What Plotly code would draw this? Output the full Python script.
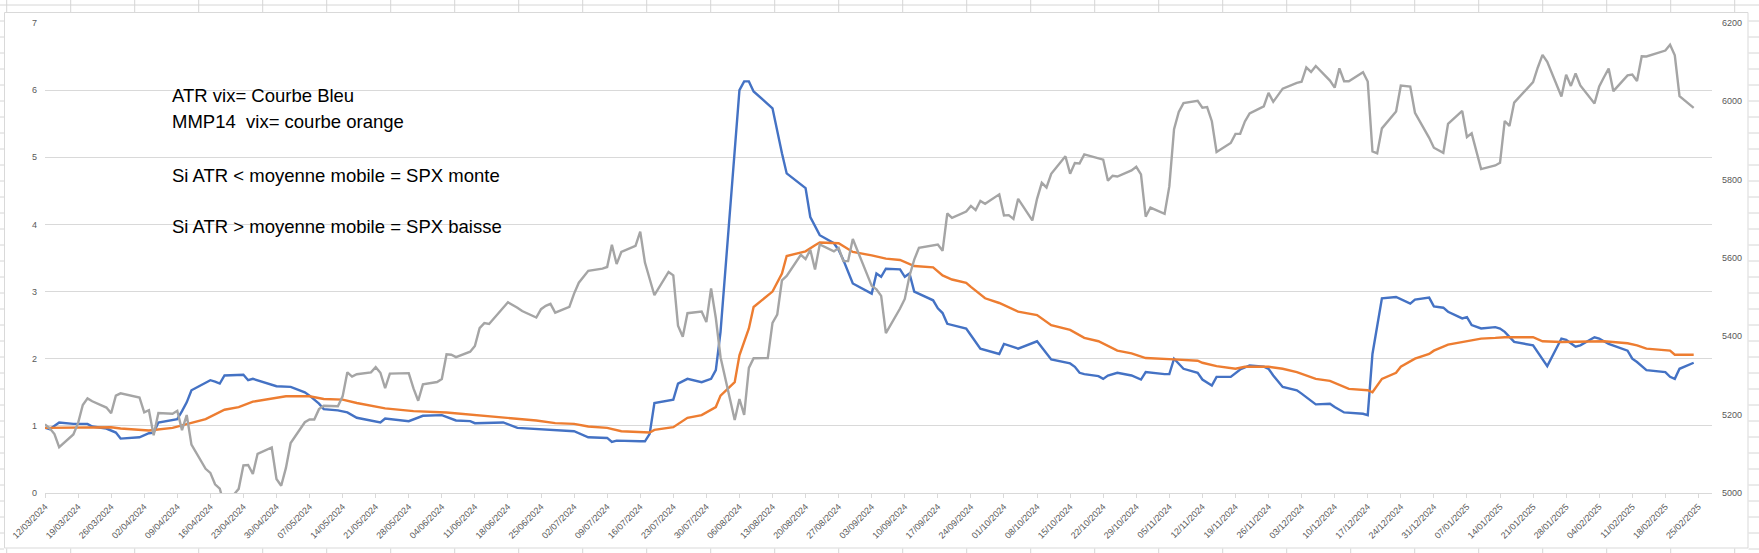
import plotly.graph_objects as go
import pandas as pd

# ---------------- DATA ----------------
spx_dates = [
 "2024-03-12","2024-03-13","2024-03-14","2024-03-15","2024-03-18","2024-03-19","2024-03-20","2024-03-21","2024-03-22","2024-03-25","2024-03-26","2024-03-27","2024-03-28",
 "2024-04-01","2024-04-02","2024-04-03","2024-04-04","2024-04-05","2024-04-08","2024-04-09","2024-04-10","2024-04-11","2024-04-12","2024-04-15","2024-04-16","2024-04-17","2024-04-18","2024-04-19","2024-04-22","2024-04-23","2024-04-24","2024-04-25","2024-04-26","2024-04-29","2024-04-30",
 "2024-05-01","2024-05-02","2024-05-03","2024-05-06","2024-05-07","2024-05-08","2024-05-09","2024-05-10","2024-05-13","2024-05-14","2024-05-15","2024-05-16","2024-05-17","2024-05-20","2024-05-21","2024-05-22","2024-05-23","2024-05-24","2024-05-28","2024-05-29","2024-05-30","2024-05-31",
 "2024-06-03","2024-06-04","2024-06-05","2024-06-06","2024-06-07","2024-06-10","2024-06-11","2024-06-12","2024-06-13","2024-06-14","2024-06-17","2024-06-18","2024-06-20","2024-06-21","2024-06-24","2024-06-25","2024-06-26","2024-06-27","2024-06-28",
 "2024-07-01","2024-07-02","2024-07-03","2024-07-05","2024-07-08","2024-07-09","2024-07-10","2024-07-11","2024-07-12","2024-07-15","2024-07-16","2024-07-17","2024-07-18","2024-07-19","2024-07-22","2024-07-23","2024-07-24","2024-07-25","2024-07-26","2024-07-29","2024-07-30","2024-07-31",
 "2024-08-01","2024-08-02","2024-08-05","2024-08-06","2024-08-07","2024-08-08","2024-08-09","2024-08-12","2024-08-13","2024-08-14","2024-08-15","2024-08-16","2024-08-19","2024-08-20","2024-08-21","2024-08-22","2024-08-23","2024-08-26","2024-08-27","2024-08-28","2024-08-29","2024-08-30",
 "2024-09-03","2024-09-04","2024-09-05","2024-09-06","2024-09-09","2024-09-10","2024-09-11","2024-09-12","2024-09-13","2024-09-16","2024-09-17","2024-09-18","2024-09-19","2024-09-20","2024-09-23","2024-09-24","2024-09-25","2024-09-26","2024-09-27","2024-09-30",
 "2024-10-01","2024-10-02","2024-10-03","2024-10-04","2024-10-07","2024-10-08","2024-10-09","2024-10-10","2024-10-11","2024-10-14","2024-10-15","2024-10-16","2024-10-17","2024-10-18","2024-10-21","2024-10-22","2024-10-23","2024-10-24","2024-10-25","2024-10-28","2024-10-29","2024-10-30","2024-10-31",
 "2024-11-01","2024-11-04","2024-11-05","2024-11-06","2024-11-07","2024-11-08","2024-11-11","2024-11-12","2024-11-13","2024-11-14","2024-11-15","2024-11-18","2024-11-19","2024-11-20","2024-11-21","2024-11-22","2024-11-25","2024-11-26","2024-11-27","2024-11-29",
 "2024-12-02","2024-12-03","2024-12-04","2024-12-05","2024-12-06","2024-12-09","2024-12-10","2024-12-11","2024-12-12","2024-12-13","2024-12-16","2024-12-17","2024-12-18","2024-12-19","2024-12-20","2024-12-23","2024-12-24","2024-12-26","2024-12-27","2024-12-30","2024-12-31",
 "2025-01-02","2025-01-03","2025-01-06","2025-01-07","2025-01-08","2025-01-10","2025-01-13","2025-01-14","2025-01-15","2025-01-16","2025-01-17","2025-01-21","2025-01-22","2025-01-23","2025-01-24","2025-01-27","2025-01-28","2025-01-29","2025-01-30","2025-01-31",
 "2025-02-03","2025-02-04","2025-02-05","2025-02-06","2025-02-07","2025-02-10","2025-02-11","2025-02-12","2025-02-13","2025-02-14","2025-02-18","2025-02-19","2025-02-20","2025-02-21","2025-02-24",
]
spx_close = [
 5175.3,5165.3,5150.5,5117.1,5149.4,5178.5,5224.6,5241.5,5234.2,5218.2,5203.6,5248.5,5254.4,
 5243.8,5205.8,5211.5,5147.2,5204.3,5202.4,5209.9,5160.6,5199.1,5123.4,5061.8,5051.4,5022.2,5011.1,4967.2,5010.6,5070.6,5071.6,5048.4,5100.0,5116.2,5035.7,
 5018.4,5064.2,5127.8,5180.7,5187.7,5187.7,5214.1,5222.7,5221.4,5246.7,5308.2,5297.1,5303.3,5308.1,5321.4,5307.0,5267.8,5304.7,5306.0,5267.0,5235.5,5277.5,
 5283.4,5291.3,5354.0,5353.0,5347.0,5360.8,5375.3,5421.0,5433.7,5431.6,5473.2,5487.0,5473.2,5464.6,5447.9,5469.3,5477.9,5482.9,5460.5,
 5475.1,5509.0,5537.0,5567.2,5572.9,5577.0,5633.9,5584.5,5615.4,5631.2,5667.2,5588.3,5544.6,5505.0,5564.4,5555.7,5427.1,5399.2,5459.1,5463.5,5436.4,5522.3,
 5446.7,5346.6,5186.3,5240.0,5199.5,5319.3,5344.2,5344.4,5434.4,5455.2,5543.2,5554.3,5608.3,5597.1,5620.9,5570.6,5634.6,5616.8,5625.8,5592.2,5592.0,5648.4,
 5528.9,5520.1,5503.4,5408.4,5471.1,5495.5,5554.1,5595.8,5626.0,5633.1,5634.6,5618.3,5713.6,5702.6,5718.6,5732.9,5722.3,5745.4,5738.2,5762.5,
 5708.8,5709.5,5699.9,5751.1,5695.9,5751.1,5792.0,5780.1,5815.0,5859.9,5815.3,5842.5,5841.5,5864.7,5854.0,5851.2,5797.4,5809.9,5808.1,5823.5,5832.9,5813.7,5705.5,
 5728.8,5712.7,5782.8,5929.0,5973.1,5995.5,6001.4,5984.0,5985.4,5949.2,5870.6,5893.6,5917.0,5917.1,5948.7,5969.3,5987.4,6021.6,5998.7,6032.4,
 6047.2,6049.9,6086.5,6075.1,6090.3,6052.9,6034.9,6084.2,6051.3,6051.1,6074.1,6050.6,5872.2,5867.1,5930.9,5974.1,6040.0,6037.6,5970.8,5906.9,5881.6,
 5868.6,5942.5,5975.4,5909.0,5918.3,5827.0,5836.2,5842.9,5949.9,5937.3,5996.7,6049.2,6086.4,6118.7,6101.2,6012.3,6067.7,6039.3,6071.2,6040.5,
 5994.6,6037.9,6061.5,6083.6,6026.0,6066.4,6068.5,6052.0,6115.1,6114.6,6129.6,6144.2,6117.5,6013.1,5983.3,
]

atr_dates = [
 "2024-03-12","2024-03-13","2024-03-15","2024-03-18","2024-03-21","2024-03-22","2024-03-25","2024-03-27","2024-03-28",
 "2024-04-01","2024-04-03","2024-04-04","2024-04-05","2024-04-08","2024-04-09","2024-04-10","2024-04-11","2024-04-12",
 "2024-04-16","2024-04-17","2024-04-18","2024-04-19","2024-04-23","2024-04-24","2024-04-25","2024-04-30",
 "2024-05-03","2024-05-06","2024-05-07","2024-05-09","2024-05-10","2024-05-13","2024-05-15","2024-05-17","2024-05-21","2024-05-22","2024-05-23","2024-05-28","2024-05-31",
 "2024-06-04","2024-06-07","2024-06-10","2024-06-11","2024-06-14","2024-06-17","2024-06-20","2024-06-24",
 "2024-07-02","2024-07-05","2024-07-09","2024-07-10","2024-07-11","2024-07-16","2024-07-17","2024-07-18","2024-07-19","2024-07-23","2024-07-24","2024-07-26","2024-07-29","2024-07-31",
 "2024-08-01","2024-08-02","2024-08-05","2024-08-06","2024-08-07","2024-08-08","2024-08-09","2024-08-13","2024-08-15","2024-08-16","2024-08-20","2024-08-21","2024-08-23","2024-08-26","2024-08-27","2024-08-28","2024-08-30",
 "2024-09-03","2024-09-04","2024-09-05","2024-09-06","2024-09-09","2024-09-10","2024-09-11","2024-09-12","2024-09-16","2024-09-17","2024-09-18","2024-09-19","2024-09-23","2024-09-24","2024-09-26","2024-09-30",
 "2024-10-01","2024-10-04","2024-10-08","2024-10-11","2024-10-15","2024-10-16","2024-10-17","2024-10-18","2024-10-21","2024-10-22","2024-10-23","2024-10-25","2024-10-28","2024-10-30","2024-10-31",
 "2024-11-04","2024-11-05","2024-11-06","2024-11-08","2024-11-11","2024-11-12","2024-11-14","2024-11-15","2024-11-18","2024-11-20","2024-11-22","2024-11-25","2024-11-26","2024-11-27","2024-11-29",
 "2024-12-02","2024-12-03","2024-12-06","2024-12-09","2024-12-10","2024-12-12","2024-12-16","2024-12-17","2024-12-18","2024-12-20","2024-12-23","2024-12-26","2024-12-27","2024-12-30","2024-12-31",
 "2025-01-02","2025-01-03","2025-01-06","2025-01-07","2025-01-08","2025-01-10","2025-01-13","2025-01-14","2025-01-15","2025-01-17","2025-01-21","2025-01-24","2025-01-27","2025-01-28","2025-01-30","2025-01-31",
 "2025-02-03","2025-02-04","2025-02-06","2025-02-10","2025-02-11","2025-02-12","2025-02-14","2025-02-18","2025-02-19","2025-02-20","2025-02-21","2025-02-24",
]
atr_values = [
 0.97,0.95,1.05,1.03,1.03,0.99,0.96,0.90,0.81,
 0.83,0.89,0.90,1.05,1.08,1.10,1.22,1.35,1.53,
 1.68,1.66,1.63,1.75,1.76,1.68,1.70,1.59,
 1.58,1.50,1.45,1.33,1.25,1.23,1.20,1.12,1.06,1.05,1.11,1.07,1.15,
 1.16,1.08,1.07,1.04,1.05,1.05,0.97,0.95,
 0.92,0.83,0.82,0.76,0.78,0.77,0.77,0.88,1.34,1.39,1.63,1.70,1.65,1.70,
 1.83,2.40,5.20,6.00,6.13,6.13,5.98,5.73,5.06,4.76,4.54,4.11,3.84,3.72,3.62,3.47,3.12,
 2.97,3.27,3.22,3.34,3.33,3.22,3.27,3.00,2.87,2.75,2.68,2.52,2.45,2.35,2.15,2.07,
 2.22,2.15,2.26,1.99,1.93,1.88,1.79,1.77,1.74,1.70,1.75,1.79,1.75,1.69,1.80,
 1.77,1.77,2.00,1.85,1.79,1.69,1.60,1.73,1.73,1.84,1.90,1.88,1.85,1.75,1.58,
 1.53,1.48,1.32,1.33,1.28,1.20,1.18,1.16,2.07,2.90,2.92,2.82,2.88,2.91,2.78,
 2.76,2.70,2.60,2.62,2.50,2.45,2.47,2.45,2.40,2.25,2.20,1.89,2.30,2.28,2.18,2.20,
 2.32,2.30,2.22,2.12,2.00,1.95,1.83,1.80,1.73,1.70,1.85,1.94,
]

mmp_dates = [
 "2024-03-12","2024-03-18","2024-03-26","2024-03-28","2024-04-03","2024-04-08","2024-04-12","2024-04-15","2024-04-19","2024-04-22","2024-04-25","2024-04-29",
 "2024-05-02","2024-05-07","2024-05-10","2024-05-14","2024-05-17","2024-05-23","2024-05-29",
 "2024-06-05","2024-06-10","2024-06-14","2024-06-20","2024-06-24","2024-06-28",
 "2024-07-02","2024-07-05","2024-07-09","2024-07-12","2024-07-16","2024-07-18","2024-07-19","2024-07-23","2024-07-26","2024-07-29",
 "2024-08-01","2024-08-02","2024-08-05","2024-08-06","2024-08-08","2024-08-09","2024-08-13","2024-08-15","2024-08-16","2024-08-20","2024-08-22","2024-08-23","2024-08-27","2024-08-28","2024-08-30",
 "2024-09-03","2024-09-06","2024-09-09","2024-09-12","2024-09-16","2024-09-18","2024-09-20","2024-09-23","2024-09-24","2024-09-27","2024-09-30",
 "2024-10-04","2024-10-08","2024-10-11","2024-10-15","2024-10-18","2024-10-21","2024-10-25","2024-10-28","2024-10-31",
 "2024-11-06","2024-11-11","2024-11-12","2024-11-15","2024-11-19","2024-11-21","2024-11-26","2024-11-29",
 "2024-12-02","2024-12-06","2024-12-09","2024-12-13","2024-12-17","2024-12-18","2024-12-20","2024-12-23","2024-12-24","2024-12-27","2024-12-30","2024-12-31",
 "2025-01-03","2025-01-06","2025-01-10","2025-01-13","2025-01-15","2025-01-21","2025-01-23","2025-01-27",
 "2025-02-03","2025-02-05","2025-02-10","2025-02-12","2025-02-14","2025-02-19","2025-02-20","2025-02-24",
]
mmp_values = [
 0.97,0.97,0.98,0.96,0.93,0.97,1.05,1.10,1.24,1.28,1.36,1.40,
 1.44,1.44,1.40,1.39,1.34,1.26,1.22,
 1.20,1.17,1.14,1.10,1.08,1.04,
 1.03,0.99,0.97,0.92,0.90,0.90,0.94,0.98,1.12,1.16,
 1.28,1.45,1.65,2.05,2.45,2.77,3.00,3.27,3.53,3.60,3.69,3.73,3.72,3.68,3.59,
 3.54,3.49,3.47,3.38,3.36,3.24,3.18,3.13,3.07,2.90,2.83,
 2.70,2.65,2.50,2.43,2.31,2.26,2.12,2.08,2.01,
 1.99,1.97,1.94,1.89,1.85,1.88,1.88,1.85,
 1.80,1.70,1.67,1.55,1.53,1.50,1.70,1.79,1.88,2.00,2.07,2.12,
 2.21,2.25,2.30,2.31,2.32,2.32,2.26,2.25,
 2.25,2.26,2.23,2.20,2.15,2.12,2.06,2.06,
]

tick_dates = pd.date_range("2024-03-12", "2025-02-25", freq="7D")
tick_labels = [d.strftime("%d/%m/%Y") for d in tick_dates]

note_lines = [
    "ATR vix= Courbe Bleu",
    "MMP14  vix= courbe orange",
    "Si ATR < moyenne mobile = SPX monte",
    "Si ATR > moyenne mobile = SPX baisse",
]

# ---------------- LAYOUT GEOMETRY ----------------
W, H = 1759, 553
ML, MR, MT, MB = 45, 47, 23, 60
PW, PH = W - ML - MR, H - MT - MB


def px(x):
    return (x - ML) / PW


def py(y):
    return 1 - (y - MT) / PH


FONT = "Liberation Sans, Arial, sans-serif"
TICK = dict(family=FONT, size=9, color="#595959")

fig = go.Figure()
fig.add_trace(go.Scatter(x=atr_dates, y=atr_values, mode="lines", name="ATR vix",
                         line=dict(color="#4472C4", width=2.4), yaxis="y"))
fig.add_trace(go.Scatter(x=mmp_dates, y=mmp_values, mode="lines", name="MMP14 vix",
                         line=dict(color="#ED7D31", width=2.4), yaxis="y"))
fig.add_trace(go.Scatter(x=spx_dates, y=spx_close, mode="lines", name="SPX",
                         line=dict(color="#A5A5A5", width=2.4), yaxis="y2"))

# Excel-sheet-like surroundings
shapes = []
grid_c = "#d6d6d6"
# chart area border
shapes.append(dict(type="rect", xref="paper", yref="paper", x0=px(4.5), x1=px(1748), y0=py(12.5), y1=py(548),
                   line=dict(color="#d9d9d9", width=1), fillcolor="rgba(0,0,0,0)", layer="below"))
# top row line
shapes.append(dict(type="line", xref="paper", yref="paper", x0=px(0), x1=px(W), y0=py(5), y1=py(5),
                   line=dict(color=grid_c, width=1), layer="below"))
cx = 6.7
while cx < W:
    shapes.append(dict(type="line", xref="paper", yref="paper", x0=px(cx), x1=px(cx), y0=py(0), y1=py(12),
                       line=dict(color=grid_c, width=1), layer="below"))
    shapes.append(dict(type="line", xref="paper", yref="paper", x0=px(cx), x1=px(cx), y0=py(548.5), y1=py(H),
                       line=dict(color=grid_c, width=1), layer="below"))
    cx += 64
ry = 21
while ry < H:
    shapes.append(dict(type="line", xref="paper", yref="paper", x0=px(0), x1=px(4), y0=py(ry), y1=py(ry),
                       line=dict(color=grid_c, width=1), layer="below"))
    shapes.append(dict(type="line", xref="paper", yref="paper", x0=px(1748.5), x1=px(W), y0=py(ry), y1=py(ry),
                       line=dict(color=grid_c, width=1), layer="below"))
    ry += 16

note_y = [95, 121.7, 175, 226.7]
annotations = [dict(text=t, xref="paper", yref="paper", x=px(170), y=py(yy), xanchor="left", yanchor="middle",
                    showarrow=False, font=dict(family=FONT, size=18.5, color="#000000"))
               for t, yy in zip(note_lines, note_y)]

fig.update_layout(
    width=W, height=H,
    margin=dict(l=ML, r=MR, t=MT, b=MB, pad=0),
    paper_bgcolor="white", plot_bgcolor="white",
    showlegend=False,
    shapes=shapes,
    annotations=annotations,
    xaxis=dict(type="date", range=["2024-03-12", "2025-02-27 21:00"],
               tickmode="array", tickvals=list(tick_dates), ticktext=tick_labels,
               tickangle=-45, tickfont=TICK, showgrid=False, zeroline=False,
               showline=True, linecolor="#d9d9d9", linewidth=1,
               ticks="outside", ticklen=4, tickcolor="#d9d9d9"),
    yaxis=dict(range=[0, 7], dtick=1, tick0=0, tickfont=TICK, showgrid=True, gridcolor="#d9d9d9",
               gridwidth=1, zeroline=False, showline=False, ticks="", ticklabelstandoff=7),
    yaxis2=dict(range=[5000, 6200], dtick=200, tick0=5000, overlaying="y", side="right",
                tickfont=TICK, showgrid=False, zeroline=False, showline=False, ticks="",
                ticklabelstandoff=9),
)

fig.write_html("out.html")
